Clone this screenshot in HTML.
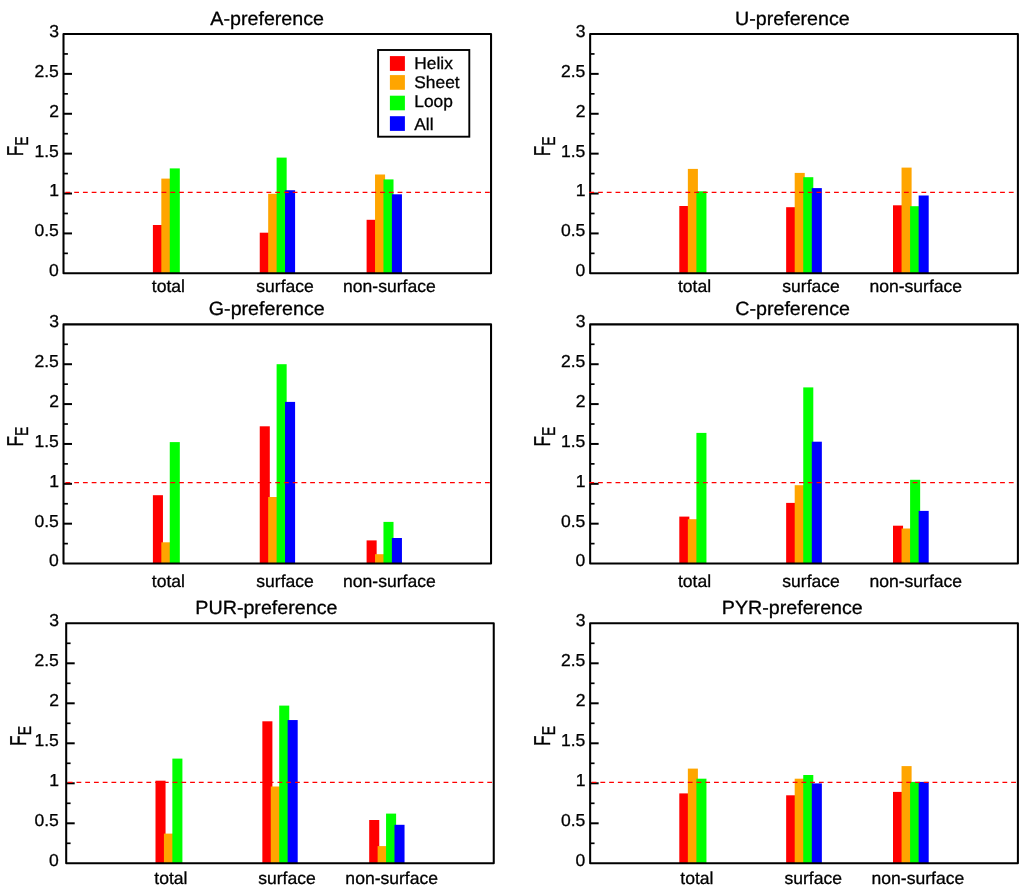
<!DOCTYPE html>
<html><head><meta charset="utf-8"><title>Preference charts</title>
<style>
html,body{margin:0;padding:0;background:#fff;}
svg{display:block;font-family:"Liberation Sans",sans-serif;fill:#000;}
text{stroke:#000;stroke-width:0.3px;text-rendering:geometricPrecision;}
</style></head>
<body>
<svg width="1024" height="892" viewBox="0 0 1024 892">
<rect x="0" y="0" width="1024" height="892" fill="#ffffff"/>
<!-- panel A-preference -->
<rect x="152.9" y="225" width="10.05" height="48.3" fill="#ff0000"/>
<rect x="161.33" y="178.6" width="10.05" height="94.7" fill="#ffa500"/>
<rect x="169.76" y="168.4" width="10.05" height="104.9" fill="#00ff00"/>
<rect x="259.75" y="232.7" width="10.05" height="40.6" fill="#ff0000"/>
<rect x="268.18" y="193.8" width="10.05" height="79.5" fill="#ffa500"/>
<rect x="276.61" y="157.6" width="10.05" height="115.7" fill="#00ff00"/>
<rect x="285.04" y="190.25" width="10.05" height="83.05" fill="#0000ff"/>
<rect x="366.6" y="219.8" width="10.05" height="53.5" fill="#ff0000"/>
<rect x="375.03" y="174.5" width="10.05" height="98.8" fill="#ffa500"/>
<rect x="383.46" y="179.4" width="10.05" height="93.9" fill="#00ff00"/>
<rect x="391.89" y="194.3" width="10.05" height="79" fill="#0000ff"/>
<text transform="translate(49.06,276.2) scale(1.015,1)" font-size="17.3">0</text>
<line x1="63.5" y1="253.36" x2="67.9" y2="253.36" stroke="#000" stroke-width="1.7"/>
<line x1="63.5" y1="233.42" x2="72" y2="233.42" stroke="#000" stroke-width="2"/>
<text transform="translate(34.39,236.32) scale(1.015,1)" font-size="17.3">0.5</text>
<line x1="63.5" y1="213.48" x2="67.9" y2="213.48" stroke="#000" stroke-width="1.7"/>
<line x1="63.5" y1="193.53" x2="72" y2="193.53" stroke="#000" stroke-width="2"/>
<text transform="translate(49.23,196.43) scale(1.015,1)" font-size="17.3">1</text>
<line x1="63.5" y1="173.59" x2="67.9" y2="173.59" stroke="#000" stroke-width="1.7"/>
<line x1="63.5" y1="153.65" x2="72" y2="153.65" stroke="#000" stroke-width="2"/>
<text transform="translate(34.39,156.55) scale(1.015,1)" font-size="17.3">1.5</text>
<line x1="63.5" y1="133.71" x2="67.9" y2="133.71" stroke="#000" stroke-width="1.7"/>
<line x1="63.5" y1="113.77" x2="72" y2="113.77" stroke="#000" stroke-width="2"/>
<text transform="translate(49.23,116.67) scale(1.015,1)" font-size="17.3">2</text>
<line x1="63.5" y1="93.83" x2="67.9" y2="93.83" stroke="#000" stroke-width="1.7"/>
<line x1="63.5" y1="73.88" x2="72" y2="73.88" stroke="#000" stroke-width="2"/>
<text transform="translate(34.39,76.78) scale(1.015,1)" font-size="17.3">2.5</text>
<line x1="63.5" y1="53.94" x2="67.9" y2="53.94" stroke="#000" stroke-width="1.7"/>
<text transform="translate(49.14,36.9) scale(1.015,1)" font-size="17.3">3</text>
<rect x="63.5" y="34" width="427.55" height="239.3" fill="none" stroke="#000" stroke-width="2.05" stroke-linejoin="round"/>
<line x1="65.45" y1="192.45" x2="490.05" y2="192.45" stroke="#ff0000" stroke-width="1.25" stroke-dasharray="4.8 3.94"/>
<text transform="translate(210.32,25) scale(1.025,1)" font-size="19.2">A-preference</text>
<text transform="translate(151.85,291.7) scale(1.015,1)" font-size="17.3">total</text>
<text transform="translate(256.33,291.7) scale(1.015,1)" font-size="17.3">surface</text>
<text transform="translate(343.07,291.7) scale(1.015,1)" font-size="17.3">non-surface</text>
<text transform="translate(23.3,156.25) rotate(-90) scale(1,1.33)" font-size="17.3">F</text>
<text transform="translate(27.9,145.7) rotate(-90) scale(1,1.34)" font-size="13.9">E</text>
<!-- panel U-preference -->
<rect x="679.3" y="206" width="10.05" height="67.3" fill="#ff0000"/>
<rect x="687.85" y="168.9" width="10.05" height="104.4" fill="#ffa500"/>
<rect x="696.4" y="191.3" width="10.05" height="82" fill="#00ff00"/>
<rect x="786.15" y="207.2" width="10.05" height="66.1" fill="#ff0000"/>
<rect x="794.7" y="172.9" width="10.05" height="100.4" fill="#ffa500"/>
<rect x="803.25" y="177.2" width="10.05" height="96.1" fill="#00ff00"/>
<rect x="811.8" y="188.1" width="10.05" height="85.2" fill="#0000ff"/>
<rect x="893" y="205.3" width="10.05" height="68" fill="#ff0000"/>
<rect x="901.55" y="167.6" width="10.05" height="105.7" fill="#ffa500"/>
<rect x="910.1" y="206.2" width="10.05" height="67.1" fill="#00ff00"/>
<rect x="918.65" y="195.5" width="10.05" height="77.8" fill="#0000ff"/>
<text transform="translate(575.56,276.2) scale(1.015,1)" font-size="17.3">0</text>
<line x1="590.15" y1="253.36" x2="594.55" y2="253.36" stroke="#000" stroke-width="1.7"/>
<line x1="590.15" y1="233.42" x2="598.65" y2="233.42" stroke="#000" stroke-width="2"/>
<text transform="translate(560.89,236.32) scale(1.015,1)" font-size="17.3">0.5</text>
<line x1="590.15" y1="213.48" x2="594.55" y2="213.48" stroke="#000" stroke-width="1.7"/>
<line x1="590.15" y1="193.53" x2="598.65" y2="193.53" stroke="#000" stroke-width="2"/>
<text transform="translate(575.73,196.43) scale(1.015,1)" font-size="17.3">1</text>
<line x1="590.15" y1="173.59" x2="594.55" y2="173.59" stroke="#000" stroke-width="1.7"/>
<line x1="590.15" y1="153.65" x2="598.65" y2="153.65" stroke="#000" stroke-width="2"/>
<text transform="translate(560.89,156.55) scale(1.015,1)" font-size="17.3">1.5</text>
<line x1="590.15" y1="133.71" x2="594.55" y2="133.71" stroke="#000" stroke-width="1.7"/>
<line x1="590.15" y1="113.77" x2="598.65" y2="113.77" stroke="#000" stroke-width="2"/>
<text transform="translate(575.73,116.67) scale(1.015,1)" font-size="17.3">2</text>
<line x1="590.15" y1="93.83" x2="594.55" y2="93.83" stroke="#000" stroke-width="1.7"/>
<line x1="590.15" y1="73.88" x2="598.65" y2="73.88" stroke="#000" stroke-width="2"/>
<text transform="translate(560.89,76.78) scale(1.015,1)" font-size="17.3">2.5</text>
<line x1="590.15" y1="53.94" x2="594.55" y2="53.94" stroke="#000" stroke-width="1.7"/>
<text transform="translate(575.64,36.9) scale(1.015,1)" font-size="17.3">3</text>
<rect x="590.15" y="34" width="427.75" height="239.3" fill="none" stroke="#000" stroke-width="2.05" stroke-linejoin="round"/>
<line x1="589.3" y1="192.45" x2="1016.9" y2="192.45" stroke="#ff0000" stroke-width="1.25" stroke-dasharray="4.8 3.94"/>
<text transform="translate(734.99,25) scale(1.025,1)" font-size="19.2">U-preference</text>
<text transform="translate(677.9,291.7) scale(1.015,1)" font-size="17.3">total</text>
<text transform="translate(782.28,291.7) scale(1.015,1)" font-size="17.3">surface</text>
<text transform="translate(869.42,291.7) scale(1.015,1)" font-size="17.3">non-surface</text>
<text transform="translate(550.1,156.25) rotate(-90) scale(1,1.33)" font-size="17.3">F</text>
<text transform="translate(554.7,145.7) rotate(-90) scale(1,1.34)" font-size="13.9">E</text>
<!-- panel G-preference -->
<rect x="152.9" y="495.2" width="10.05" height="68.35" fill="#ff0000"/>
<rect x="161.33" y="542.3" width="10.05" height="21.25" fill="#ffa500"/>
<rect x="169.76" y="442.1" width="10.05" height="121.45" fill="#00ff00"/>
<rect x="259.75" y="426.3" width="10.05" height="137.25" fill="#ff0000"/>
<rect x="268.18" y="497" width="10.05" height="66.55" fill="#ffa500"/>
<rect x="276.61" y="364.2" width="10.05" height="199.35" fill="#00ff00"/>
<rect x="285.04" y="401.9" width="10.05" height="161.65" fill="#0000ff"/>
<rect x="366.6" y="540.4" width="10.05" height="23.15" fill="#ff0000"/>
<rect x="375.03" y="554.2" width="10.05" height="9.35" fill="#ffa500"/>
<rect x="383.46" y="521.9" width="10.05" height="41.65" fill="#00ff00"/>
<rect x="391.89" y="538" width="10.05" height="25.55" fill="#0000ff"/>
<text transform="translate(49.06,566.45) scale(1.015,1)" font-size="17.3">0</text>
<line x1="63.5" y1="543.62" x2="67.9" y2="543.62" stroke="#000" stroke-width="1.7"/>
<line x1="63.5" y1="523.68" x2="72" y2="523.68" stroke="#000" stroke-width="2"/>
<text transform="translate(34.39,526.58) scale(1.015,1)" font-size="17.3">0.5</text>
<line x1="63.5" y1="503.75" x2="67.9" y2="503.75" stroke="#000" stroke-width="1.7"/>
<line x1="63.5" y1="483.82" x2="72" y2="483.82" stroke="#000" stroke-width="2"/>
<text transform="translate(49.23,486.72) scale(1.015,1)" font-size="17.3">1</text>
<line x1="63.5" y1="463.88" x2="67.9" y2="463.88" stroke="#000" stroke-width="1.7"/>
<line x1="63.5" y1="443.95" x2="72" y2="443.95" stroke="#000" stroke-width="2"/>
<text transform="translate(34.39,446.85) scale(1.015,1)" font-size="17.3">1.5</text>
<line x1="63.5" y1="424.02" x2="67.9" y2="424.02" stroke="#000" stroke-width="1.7"/>
<line x1="63.5" y1="404.08" x2="72" y2="404.08" stroke="#000" stroke-width="2"/>
<text transform="translate(49.23,406.98) scale(1.015,1)" font-size="17.3">2</text>
<line x1="63.5" y1="384.15" x2="67.9" y2="384.15" stroke="#000" stroke-width="1.7"/>
<line x1="63.5" y1="364.22" x2="72" y2="364.22" stroke="#000" stroke-width="2"/>
<text transform="translate(34.39,367.12) scale(1.015,1)" font-size="17.3">2.5</text>
<line x1="63.5" y1="344.28" x2="67.9" y2="344.28" stroke="#000" stroke-width="1.7"/>
<text transform="translate(49.14,327.25) scale(1.015,1)" font-size="17.3">3</text>
<rect x="63.5" y="324.35" width="427.55" height="239.2" fill="none" stroke="#000" stroke-width="2.05" stroke-linejoin="round"/>
<line x1="65.45" y1="482.55" x2="490.05" y2="482.55" stroke="#ff0000" stroke-width="1.25" stroke-dasharray="4.8 3.94"/>
<text transform="translate(208.79,315) scale(1.025,1)" font-size="19.2">G-preference</text>
<text transform="translate(151.85,586.5) scale(1.015,1)" font-size="17.3">total</text>
<text transform="translate(256.33,586.5) scale(1.015,1)" font-size="17.3">surface</text>
<text transform="translate(343.07,586.5) scale(1.015,1)" font-size="17.3">non-surface</text>
<text transform="translate(23.3,446.55) rotate(-90) scale(1,1.33)" font-size="17.3">F</text>
<text transform="translate(27.9,436) rotate(-90) scale(1,1.34)" font-size="13.9">E</text>
<!-- panel C-preference -->
<rect x="679.3" y="516.6" width="10.05" height="46.95" fill="#ff0000"/>
<rect x="687.85" y="519.2" width="10.05" height="44.35" fill="#ffa500"/>
<rect x="696.4" y="432.9" width="10.05" height="130.65" fill="#00ff00"/>
<rect x="786.15" y="502.9" width="10.05" height="60.65" fill="#ff0000"/>
<rect x="794.7" y="485.2" width="10.05" height="78.35" fill="#ffa500"/>
<rect x="803.25" y="387.4" width="10.05" height="176.15" fill="#00ff00"/>
<rect x="811.8" y="441.7" width="10.05" height="121.85" fill="#0000ff"/>
<rect x="893" y="525.7" width="10.05" height="37.85" fill="#ff0000"/>
<rect x="901.55" y="528.5" width="10.05" height="35.05" fill="#ffa500"/>
<rect x="910.1" y="479.8" width="10.05" height="83.75" fill="#00ff00"/>
<rect x="918.65" y="510.9" width="10.05" height="52.65" fill="#0000ff"/>
<text transform="translate(575.56,566.45) scale(1.015,1)" font-size="17.3">0</text>
<line x1="590.15" y1="543.62" x2="594.55" y2="543.62" stroke="#000" stroke-width="1.7"/>
<line x1="590.15" y1="523.68" x2="598.65" y2="523.68" stroke="#000" stroke-width="2"/>
<text transform="translate(560.89,526.58) scale(1.015,1)" font-size="17.3">0.5</text>
<line x1="590.15" y1="503.75" x2="594.55" y2="503.75" stroke="#000" stroke-width="1.7"/>
<line x1="590.15" y1="483.82" x2="598.65" y2="483.82" stroke="#000" stroke-width="2"/>
<text transform="translate(575.73,486.72) scale(1.015,1)" font-size="17.3">1</text>
<line x1="590.15" y1="463.88" x2="594.55" y2="463.88" stroke="#000" stroke-width="1.7"/>
<line x1="590.15" y1="443.95" x2="598.65" y2="443.95" stroke="#000" stroke-width="2"/>
<text transform="translate(560.89,446.85) scale(1.015,1)" font-size="17.3">1.5</text>
<line x1="590.15" y1="424.02" x2="594.55" y2="424.02" stroke="#000" stroke-width="1.7"/>
<line x1="590.15" y1="404.08" x2="598.65" y2="404.08" stroke="#000" stroke-width="2"/>
<text transform="translate(575.73,406.98) scale(1.015,1)" font-size="17.3">2</text>
<line x1="590.15" y1="384.15" x2="594.55" y2="384.15" stroke="#000" stroke-width="1.7"/>
<line x1="590.15" y1="364.22" x2="598.65" y2="364.22" stroke="#000" stroke-width="2"/>
<text transform="translate(560.89,367.12) scale(1.015,1)" font-size="17.3">2.5</text>
<line x1="590.15" y1="344.28" x2="594.55" y2="344.28" stroke="#000" stroke-width="1.7"/>
<text transform="translate(575.64,327.25) scale(1.015,1)" font-size="17.3">3</text>
<rect x="590.15" y="324.35" width="427.75" height="239.2" fill="none" stroke="#000" stroke-width="2.05" stroke-linejoin="round"/>
<line x1="589.3" y1="482.55" x2="1016.9" y2="482.55" stroke="#ff0000" stroke-width="1.25" stroke-dasharray="4.8 3.94"/>
<text transform="translate(735.23,315) scale(1.025,1)" font-size="19.2">C-preference</text>
<text transform="translate(677.9,586.5) scale(1.015,1)" font-size="17.3">total</text>
<text transform="translate(782.28,586.5) scale(1.015,1)" font-size="17.3">surface</text>
<text transform="translate(869.42,586.5) scale(1.015,1)" font-size="17.3">non-surface</text>
<text transform="translate(550.1,446.55) rotate(-90) scale(1,1.33)" font-size="17.3">F</text>
<text transform="translate(554.7,436) rotate(-90) scale(1,1.34)" font-size="13.9">E</text>
<!-- panel PUR-preference -->
<rect x="155.5" y="780.7" width="10.05" height="82.6" fill="#ff0000"/>
<rect x="163.93" y="833.6" width="10.05" height="29.7" fill="#ffa500"/>
<rect x="172.36" y="758.6" width="10.05" height="104.7" fill="#00ff00"/>
<rect x="262.35" y="721.3" width="10.05" height="142" fill="#ff0000"/>
<rect x="270.78" y="786.5" width="10.05" height="76.8" fill="#ffa500"/>
<rect x="279.21" y="705.6" width="10.05" height="157.7" fill="#00ff00"/>
<rect x="287.64" y="720.05" width="10.05" height="143.25" fill="#0000ff"/>
<rect x="369.2" y="820" width="10.05" height="43.3" fill="#ff0000"/>
<rect x="377.63" y="846.1" width="10.05" height="17.2" fill="#ffa500"/>
<rect x="386.06" y="813.6" width="10.05" height="49.7" fill="#00ff00"/>
<rect x="394.49" y="824.8" width="10.05" height="38.5" fill="#0000ff"/>
<text transform="translate(49.06,866.2) scale(1.015,1)" font-size="17.3">0</text>
<line x1="66.2" y1="843.3" x2="70.6" y2="843.3" stroke="#000" stroke-width="1.7"/>
<line x1="66.2" y1="823.3" x2="74.7" y2="823.3" stroke="#000" stroke-width="2"/>
<text transform="translate(34.39,826.2) scale(1.015,1)" font-size="17.3">0.5</text>
<line x1="66.2" y1="803.3" x2="70.6" y2="803.3" stroke="#000" stroke-width="1.7"/>
<line x1="66.2" y1="783.3" x2="74.7" y2="783.3" stroke="#000" stroke-width="2"/>
<text transform="translate(49.23,786.2) scale(1.015,1)" font-size="17.3">1</text>
<line x1="66.2" y1="763.3" x2="70.6" y2="763.3" stroke="#000" stroke-width="1.7"/>
<line x1="66.2" y1="743.3" x2="74.7" y2="743.3" stroke="#000" stroke-width="2"/>
<text transform="translate(34.39,746.2) scale(1.015,1)" font-size="17.3">1.5</text>
<line x1="66.2" y1="723.3" x2="70.6" y2="723.3" stroke="#000" stroke-width="1.7"/>
<line x1="66.2" y1="703.3" x2="74.7" y2="703.3" stroke="#000" stroke-width="2"/>
<text transform="translate(49.23,706.2) scale(1.015,1)" font-size="17.3">2</text>
<line x1="66.2" y1="683.3" x2="70.6" y2="683.3" stroke="#000" stroke-width="1.7"/>
<line x1="66.2" y1="663.3" x2="74.7" y2="663.3" stroke="#000" stroke-width="2"/>
<text transform="translate(34.39,666.2) scale(1.015,1)" font-size="17.3">2.5</text>
<line x1="66.2" y1="643.3" x2="70.6" y2="643.3" stroke="#000" stroke-width="1.7"/>
<text transform="translate(49.14,626.2) scale(1.015,1)" font-size="17.3">3</text>
<rect x="66.2" y="623.3" width="427.55" height="240" fill="none" stroke="#000" stroke-width="2.05" stroke-linejoin="round"/>
<line x1="67.75" y1="782.3" x2="492.75" y2="782.3" stroke="#ff0000" stroke-width="1.25" stroke-dasharray="4.8 3.94"/>
<text transform="translate(195.36,613.65) scale(1.025,1)" font-size="19.2">PUR-preference</text>
<text transform="translate(154.3,884) scale(1.015,1)" font-size="17.3">total</text>
<text transform="translate(258.23,884) scale(1.015,1)" font-size="17.3">surface</text>
<text transform="translate(345.37,884) scale(1.015,1)" font-size="17.3">non-surface</text>
<text transform="translate(26,745.9) rotate(-90) scale(1,1.33)" font-size="17.3">F</text>
<text transform="translate(30.6,735.35) rotate(-90) scale(1,1.34)" font-size="13.9">E</text>
<!-- panel PYR-preference -->
<rect x="679.3" y="793.4" width="10.05" height="69.9" fill="#ff0000"/>
<rect x="687.85" y="768.6" width="10.05" height="94.7" fill="#ffa500"/>
<rect x="696.4" y="778.7" width="10.05" height="84.6" fill="#00ff00"/>
<rect x="786.15" y="795.3" width="10.05" height="68" fill="#ff0000"/>
<rect x="794.7" y="778.7" width="10.05" height="84.6" fill="#ffa500"/>
<rect x="803.25" y="775" width="10.05" height="88.3" fill="#00ff00"/>
<rect x="811.8" y="783.4" width="10.05" height="79.9" fill="#0000ff"/>
<rect x="893" y="791.9" width="10.05" height="71.4" fill="#ff0000"/>
<rect x="901.55" y="766.1" width="10.05" height="97.2" fill="#ffa500"/>
<rect x="910.1" y="781.9" width="10.05" height="81.4" fill="#00ff00"/>
<rect x="918.65" y="781.9" width="10.05" height="81.4" fill="#0000ff"/>
<text transform="translate(575.56,866.2) scale(1.015,1)" font-size="17.3">0</text>
<line x1="590.15" y1="843.3" x2="594.55" y2="843.3" stroke="#000" stroke-width="1.7"/>
<line x1="590.15" y1="823.3" x2="598.65" y2="823.3" stroke="#000" stroke-width="2"/>
<text transform="translate(560.89,826.2) scale(1.015,1)" font-size="17.3">0.5</text>
<line x1="590.15" y1="803.3" x2="594.55" y2="803.3" stroke="#000" stroke-width="1.7"/>
<line x1="590.15" y1="783.3" x2="598.65" y2="783.3" stroke="#000" stroke-width="2"/>
<text transform="translate(575.73,786.2) scale(1.015,1)" font-size="17.3">1</text>
<line x1="590.15" y1="763.3" x2="594.55" y2="763.3" stroke="#000" stroke-width="1.7"/>
<line x1="590.15" y1="743.3" x2="598.65" y2="743.3" stroke="#000" stroke-width="2"/>
<text transform="translate(560.89,746.2) scale(1.015,1)" font-size="17.3">1.5</text>
<line x1="590.15" y1="723.3" x2="594.55" y2="723.3" stroke="#000" stroke-width="1.7"/>
<line x1="590.15" y1="703.3" x2="598.65" y2="703.3" stroke="#000" stroke-width="2"/>
<text transform="translate(575.73,706.2) scale(1.015,1)" font-size="17.3">2</text>
<line x1="590.15" y1="683.3" x2="594.55" y2="683.3" stroke="#000" stroke-width="1.7"/>
<line x1="590.15" y1="663.3" x2="598.65" y2="663.3" stroke="#000" stroke-width="2"/>
<text transform="translate(560.89,666.2) scale(1.015,1)" font-size="17.3">2.5</text>
<line x1="590.15" y1="643.3" x2="594.55" y2="643.3" stroke="#000" stroke-width="1.7"/>
<text transform="translate(575.64,626.2) scale(1.015,1)" font-size="17.3">3</text>
<rect x="590.15" y="623.3" width="427.75" height="240" fill="none" stroke="#000" stroke-width="2.05" stroke-linejoin="round"/>
<line x1="591.65" y1="782.3" x2="1016.9" y2="782.3" stroke="#ff0000" stroke-width="1.25" stroke-dasharray="4.8 3.94"/>
<text transform="translate(721.8,613.65) scale(1.025,1)" font-size="19.2">PYR-preference</text>
<text transform="translate(680.35,884) scale(1.015,1)" font-size="17.3">total</text>
<text transform="translate(784.43,884) scale(1.015,1)" font-size="17.3">surface</text>
<text transform="translate(871.57,884) scale(1.015,1)" font-size="17.3">non-surface</text>
<text transform="translate(550.1,745.9) rotate(-90) scale(1,1.33)" font-size="17.3">F</text>
<text transform="translate(554.7,735.35) rotate(-90) scale(1,1.34)" font-size="13.9">E</text>
<!-- legend -->
<rect x="378.1" y="50" width="91.2" height="86.7" fill="#fff" stroke="#000" stroke-width="1.9"/>
<rect x="389.9" y="56.1" width="15" height="14.8" fill="#ff0000"/>
<text transform="translate(414.3,69.4) scale(1.02,1)" font-size="17">Helix</text>
<rect x="389.9" y="75.1" width="15" height="14.7" fill="#ffa500"/>
<text transform="translate(414.3,88.3) scale(1.02,1)" font-size="17">Sheet</text>
<rect x="389.9" y="95.7" width="15" height="14.6" fill="#00ff00"/>
<text transform="translate(414.3,107.1) scale(1.02,1)" font-size="17">Loop</text>
<rect x="389.9" y="116.2" width="15" height="14.7" fill="#0000ff"/>
<text transform="translate(414.3,129.75) scale(1.02,1)" font-size="17">All</text>
</svg>
</body></html>
